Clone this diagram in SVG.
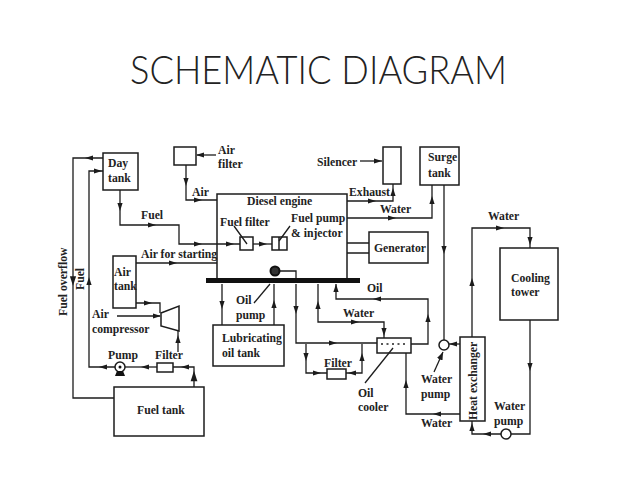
<svg xmlns="http://www.w3.org/2000/svg" xmlns:xlink="http://www.w3.org/1999/xlink" width="638" height="478" viewBox="0 0 638 478">
<style>
.t{font-family:"Liberation Serif",serif;font-size:11.7px;font-weight:bold;fill:#222}
.b{fill:none;stroke:#1c1c1c;stroke-width:1.5}
.l{fill:none;stroke:#1c1c1c;stroke-width:1.3}
</style>
<defs>
<path id="h" d="M-4 -2.6L4 0L-4 2.6z" fill="#1c1c1c"/>
<marker id="a" viewBox="0 0 8 6" refX="8" refY="3" markerWidth="8" markerHeight="6" markerUnits="userSpaceOnUse" orient="auto"><path d="M0 0L8 3L0 6z" fill="#1c1c1c"/></marker>
</defs>
<rect width="638" height="478" fill="#fff"/>
<text x="130" y="84" font-family="Lato,'Open Sans',sans-serif" font-weight="300" font-size="39" fill="#222" textLength="377" lengthAdjust="spacingAndGlyphs">SCHEMATIC DIAGRAM</text>
<g id="connectors">
<g class="l">
<path d="M103 158H73V398H114"/>
<path d="M115 367H89V171H103"/>
<path d="M125 367H157"/>
<path d="M173 367H194V387"/>
<path d="M120 190V225H179V244H240"/>
<path d="M253 244H272"/>
<path d="M186 165V200H217"/>
<path d="M136 263H217"/>
<path d="M136 303H160V313"/>
<path d="M117 316H160"/>
<path d="M178 352V331"/>
<path d="M216 155H197"/>
<path d="M360 161H382"/>
<path d="M347 201H393V184"/>
<path d="M347 218H432V185"/>
<path d="M347 243H369M347 253H369"/>
<path d="M444 185V340"/>
<path d="M460 344H449"/>
<path d="M472 337V228H530V248"/>
<path d="M530 320V434H511"/>
<path d="M501 434H472V421"/>
<path d="M460 414H406V353"/>
<path d="M411 344H428V299H336V284"/>
<path d="M318 284V322H384V338"/>
<path d="M296 284V343H377"/>
<path d="M306 344V373H327"/>
<path d="M346 373H362V344"/>
<path d="M222 284V325"/>
<path d="M274 284V325"/>
<path d="M280 271H296V279"/>
<path d="M234 226L247 244M290 226L279 241"/>
<path d="M254 303L270 284"/>
<path d="M365 383L393 348"/>
<path marker-end="url(#a)" d="M434 372L443 352"/>
</g>
<use xlink:href="#h" href="#h" transform="translate(89,158) rotate(180)"/>
<use xlink:href="#h" href="#h" transform="translate(73,281) rotate(90) scale(1.2)"/>
<use xlink:href="#h" href="#h" transform="translate(89,281) rotate(-90)"/>
<use xlink:href="#h" href="#h" transform="translate(98,171)"/>
<use xlink:href="#h" href="#h" transform="translate(103,367) rotate(180)"/>
<use xlink:href="#h" href="#h" transform="translate(145,367) rotate(180)"/>
<use xlink:href="#h" href="#h" transform="translate(185,367) rotate(180)"/>
<use xlink:href="#h" href="#h" transform="translate(194,376) rotate(-90) scale(1.3)"/>
<use xlink:href="#h" href="#h" transform="translate(178,339) rotate(-90)"/>
<use xlink:href="#h" href="#h" transform="translate(148,303)"/>
<use xlink:href="#h" href="#h" transform="translate(157,316)"/>
<use xlink:href="#h" href="#h" transform="translate(120,207) rotate(90)"/>
<use xlink:href="#h" href="#h" transform="translate(152,225)"/>
<use xlink:href="#h" href="#h" transform="translate(198,244)"/>
<use xlink:href="#h" href="#h" transform="translate(230,244)"/>
<use xlink:href="#h" href="#h" transform="translate(263,244)"/>
<use xlink:href="#h" href="#h" transform="translate(186,182) rotate(90)"/>
<use xlink:href="#h" href="#h" transform="translate(198,200)"/>
<use xlink:href="#h" href="#h" transform="translate(173,263)"/>
<use xlink:href="#h" href="#h" transform="translate(200,155) rotate(180)"/>
<use xlink:href="#h" href="#h" transform="translate(378,161)"/>
<use xlink:href="#h" href="#h" transform="translate(372,201)"/>
<use xlink:href="#h" href="#h" transform="translate(393,192) rotate(-90)"/>
<use xlink:href="#h" href="#h" transform="translate(392,218)"/>
<use xlink:href="#h" href="#h" transform="translate(432,200) rotate(-90)"/>
<use xlink:href="#h" href="#h" transform="translate(444,250) rotate(90)"/>
<use xlink:href="#h" href="#h" transform="translate(453,344) rotate(180)"/>
<use xlink:href="#h" href="#h" transform="translate(472,282) rotate(-90)"/>
<use xlink:href="#h" href="#h" transform="translate(500,228)"/>
<use xlink:href="#h" href="#h" transform="translate(530,241) rotate(90)"/>
<use xlink:href="#h" href="#h" transform="translate(530,367) rotate(90)"/>
<use xlink:href="#h" href="#h" transform="translate(487,434) rotate(180)"/>
<use xlink:href="#h" href="#h" transform="translate(472,427) rotate(-90)"/>
<use xlink:href="#h" href="#h" transform="translate(437,414) rotate(180)"/>
<use xlink:href="#h" href="#h" transform="translate(406,384) rotate(-90)"/>
<use xlink:href="#h" href="#h" transform="translate(428,318) rotate(-90)"/>
<use xlink:href="#h" href="#h" transform="translate(377,299) rotate(180)"/>
<use xlink:href="#h" href="#h" transform="translate(336,288) rotate(-90)"/>
<use xlink:href="#h" href="#h" transform="translate(318,305) rotate(-90)"/>
<use xlink:href="#h" href="#h" transform="translate(355,322)"/>
<use xlink:href="#h" href="#h" transform="translate(384,332) rotate(90)"/>
<use xlink:href="#h" href="#h" transform="translate(296,310) rotate(90)"/>
<use xlink:href="#h" href="#h" transform="translate(333,343)"/>
<use xlink:href="#h" href="#h" transform="translate(306,357) rotate(90)"/>
<use xlink:href="#h" href="#h" transform="translate(317,373)"/>
<use xlink:href="#h" href="#h" transform="translate(352,373) rotate(180)"/>
<use xlink:href="#h" href="#h" transform="translate(362,357) rotate(-90)"/>
<use xlink:href="#h" href="#h" transform="translate(222,305) rotate(90)"/>
<use xlink:href="#h" href="#h" transform="translate(274,304) rotate(-90)"/>
</g>
<g id="day-tank"><rect class="b" x="103" y="153" width="35" height="37" fill="#fff"/><text class="t" x="108" y="167">Day</text><text class="t" x="108" y="182">tank</text></g>
<g id="air-filter"><rect class="b" x="174" y="147" width="22" height="18" fill="#fff"/><text class="t" x="218" y="154">Air</text><text class="t" x="218" y="168">filter</text></g>
<g id="diesel-engine"><rect class="b" x="217" y="194" width="130" height="85"/><text class="t" x="247" y="205">Diesel engine</text></g>
<g id="fuel-filter"><rect class="b" x="240" y="237" width="13" height="13"/><text class="t" x="220" y="226">Fuel filter</text></g>
<g id="fuel-pump"><path class="b" d="M272 237H287V250H272zM279 237V250"/><text class="t" x="291" y="222">Fuel pump</text><text class="t" x="291" y="237">&amp; injector</text></g>
<g id="bar"><rect x="206" y="278" width="154" height="5" fill="#111"/></g>
<g id="oil-pump"><circle cx="275" cy="271" r="4.5" fill="#333" stroke="#111" stroke-width="2"/><text class="t" x="236" y="304">Oil</text><text class="t" x="236" y="319">pump</text></g>
<g id="lubricating-oil-tank"><rect class="b" x="213" y="325" width="71" height="41" fill="#fff"/><text class="t" x="222" y="342">Lubricating</text><text class="t" x="222" y="357">oil tank</text></g>
<g id="air-tank"><path class="b" d="M113 256H136V308H113z" fill="#fff"/><text class="t" x="114" y="276">Air</text><text class="t" x="114" y="290">tank</text></g>
<g id="air-compressor"><path class="b" d="M161 313L179 306V331L161 326z" fill="#fff"/><text class="t" x="92" y="318">Air</text><text class="t" x="92" y="333">compressor</text></g>
<g id="pump"><circle class="b" cx="120" cy="367" r="5" fill="#fff"/><circle cx="120" cy="367" r="1.5" fill="#111"/><path d="M115 376L117 371H123L125 376z" fill="#111"/><text class="t" x="108" y="359">Pump</text></g>
<g id="filter"><rect class="b" x="157" y="363" width="16" height="9" fill="#fff"/><text class="t" x="155" y="359">Filter</text></g>
<g id="fuel-tank"><rect class="b" x="114" y="387" width="90" height="49" fill="#fff"/><text class="t" x="137" y="414">Fuel tank</text></g>
<g id="silencer"><rect class="b" x="383" y="147" width="18" height="37" fill="#fff"/><text class="t" x="317" y="166">Silencer</text></g>
<g id="surge-tank"><rect class="b" x="420" y="147" width="39" height="38" fill="#fff"/><text class="t" x="428" y="161">Surge</text><text class="t" x="428" y="177">tank</text></g>
<g id="generator"><rect class="b" x="369" y="232" width="59" height="31" fill="#fff"/><text class="t" x="374" y="252">Generator</text></g>
<g id="oil-cooler"><rect class="b" x="377" y="338" width="34" height="15" fill="#fff"/><path d="M381 344H408" stroke="#222" stroke-width="1.3" stroke-dasharray="2 3.5"/><text class="t" x="358" y="397">Oil</text><text class="t" x="358" y="411">cooler</text></g>
<g id="oil-filter"><rect class="b" x="327" y="369" width="19" height="10" fill="#fff"/><text class="t" x="324" y="367">Filter</text></g>
<g id="water-pump-1"><circle class="b" cx="444" cy="345" r="5" fill="#ddd"/><text class="t" x="421" y="383">Water</text><text class="t" x="421" y="398">pump</text></g>
<g id="heat-exchanger"><rect class="b" x="460" y="337" width="25" height="84" fill="#fff"/><text class="t" transform="translate(477,420) rotate(-90)">Heat exchanger</text></g>
<g id="cooling-tower"><rect class="b" x="500" y="248" width="58" height="72" fill="#fff"/><text class="t" x="511" y="282">Cooling</text><text class="t" x="511" y="296">tower</text></g>
<g id="water-pump-2"><circle class="b" cx="506" cy="434" r="5" fill="#fff"/><text class="t" x="494" y="410">Water</text><text class="t" x="494" y="425">pump</text></g>
<g id="labels">
<text class="t" x="192" y="196">Air</text>
<text class="t" x="141" y="219">Fuel</text>
<text class="t" x="141" y="258">Air for starting</text>
<text class="t" x="349" y="196">Exhaust</text>
<text class="t" x="380" y="213">Water</text>
<text class="t" x="488" y="220">Water</text>
<text class="t" x="367" y="292">Oil</text>
<text class="t" x="343" y="317">Water</text>
<text class="t" x="421" y="427">Water</text>
<text class="t" transform="translate(67,316) rotate(-90)">Fuel overflow</text>
<text class="t" transform="translate(84,290) rotate(-90)">Fuel</text>
</g>
</svg>
